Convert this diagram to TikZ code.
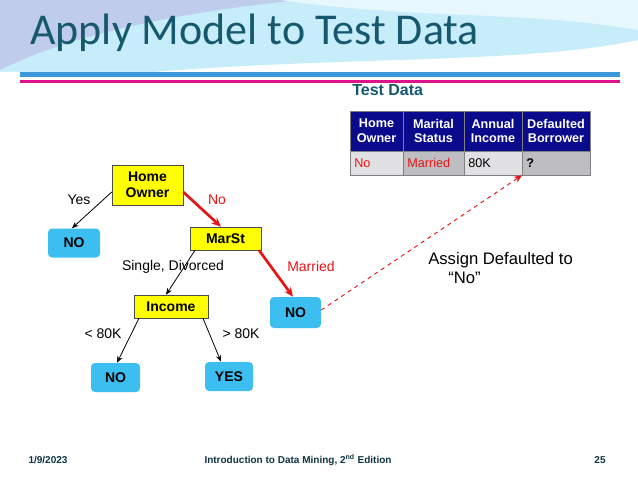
\documentclass[tikz,border=0pt]{standalone}
\usepackage{fontspec}
\setmainfont{Liberation Sans}
\newfontfamily\titlefont{Carlito}
\usetikzlibrary{arrows.meta}
\definecolor{ttl}{RGB}{22,88,110}
\definecolor{hdr}{RGB}{10,10,140}
\definecolor{lg}{RGB}{225,225,228}
\definecolor{dg}{RGB}{190,190,194}
\definecolor{leaf}{RGB}{60,190,240}
\definecolor{dec}{RGB}{255,255,0}
\definecolor{rd}{RGB}{230,20,20}
\begin{document}
\begin{tikzpicture}[x=0.75pt,y=-0.75pt,
  decbox/.style={draw=black!70,fill=dec,font=\bfseries\fontsize{10.5}{12}\selectfont,align=center,inner sep=0pt},
  leafbox/.style={fill=leaf,rounded corners=3pt,font=\bfseries\fontsize{10.5}{12}\selectfont,inner sep=0pt},
  lbl/.style={font=\fontsize{10.5}{12}\selectfont},
  thin arrow/.style={-{Stealth[length=5pt,width=4pt]},black,line width=0.6pt},
  red arrow/.style={-{Stealth[length=7pt,width=6pt]},rd,line width=2pt},
  cell/.style={draw=black!50,minimum height=24*0.75pt,anchor=west,font=\fontsize{9.5}{10}\selectfont,inner xsep=3pt,inner ysep=0pt,align=left,text depth=0pt},
  hcell/.style={draw=black!50,fill=hdr,text=white,minimum height=40*0.75pt,font=\bfseries\fontsize{9.5}{11}\selectfont,align=center,inner sep=0pt}]
\useasboundingbox (0,0) rectangle (638,478);
\fill[white] (0,0) rectangle (638,478);
% background swoosh
\fill[cyan!22!white] (0,0) -- (638,0) -- (638,40) .. controls (500,70) and (250,50) .. (0,90) -- cycle;
\fill[cyan!45!blue!25!white] (0,0) -- (300,0) .. controls (200,10) and (80,30) .. (0,70) -- cycle;
\fill[white!90!cyan] (280,0) .. controls (420,20) and (520,10) .. (638,30) -- (638,0) -- cycle;
\fill[white] (0,92) .. controls (250,55) and (450,75) .. (638,45) -- (638,72) -- (0,72) -- cycle;
\node[anchor=base west,text=ttl,font=\titlefont\fontsize{33}{35}\selectfont,inner sep=0pt] (title) at (30,45) {Apply Model to Test Data};
\fill[cyan!70!blue!80!white] (20,72.5) rectangle (620,76.5);
\fill[magenta!85!violet] (20,80) rectangle (620,82.5);
% tree
\node[decbox,minimum width=71*0.75pt,minimum height=40*0.75pt] (ho) at (147.5,185) {Home\\Owner};
\node[leafbox,minimum width=52*0.75pt,minimum height=29*0.75pt] (n1) at (74,243) {NO};
\node[decbox,minimum width=71*0.75pt,minimum height=23*0.75pt] (ms) at (225.5,238.5) {MarSt};
\node[decbox,minimum width=74*0.75pt,minimum height=23*0.75pt] (inc) at (171,306.5) {Income};
\node[leafbox,minimum width=51*0.75pt,minimum height=31*0.75pt] (n2) at (295.5,312.5) {NO};
\node[leafbox,minimum width=49*0.75pt,minimum height=29*0.75pt] (n3) at (115.5,377.5) {NO};
\node[leafbox,minimum width=48*0.75pt,minimum height=29*0.75pt] (yes) at (229,376.5) {YES};
\draw[thin arrow] (ho.west |- 0,192) -- (n1.north -| 72,0);
\draw[red arrow] (ho.east |- 0,192) -- (ms.north -| 221,0);
\draw[thin arrow] (ms.south -| 195,0) -- (inc.north -| 166,0);
\draw[red arrow] (ms.south -| 259,0) -- (n2.north -| 293,0);
\draw[thin arrow] (inc.south -| 139,0) -- (n3.north -| 117,0);
\draw[thin arrow] (inc.south -| 203,0) -- (yes.north -| 221,0);
\node[lbl] (l1) at (79,200) {Yes};
\node[lbl,text=rd] (l2) at (217,200) {No};
\node[lbl] (l3) at (173,267) {Single, Divorced};
\node[lbl,text=rd] (l4) at (311,266) {Married};
\node[lbl] (l5) at (103,334) {< 80K};
\node[lbl] (l6) at (241,334) {> 80K};
% table
\node[anchor=west,text=ttl,font=\bfseries\fontsize{12}{14}\selectfont,inner sep=0pt] (td) at (352,90) {Test Data};
\node[hcell,minimum width=53*0.75pt] (h1) at (376.5,131) {Home\\Owner};
\node[hcell,minimum width=61*0.75pt] (h2) at (433.5,131) {Marital\\Status};
\node[hcell,minimum width=58*0.75pt] (h3) at (493,131) {Annual\\Income};
\node[hcell,minimum width=68*0.75pt] (h4) at (556,131) {Defaulted\\Borrower};
\node[cell,fill=lg,text=rd,text width=45*0.75pt] (c1) at (350,163) {No};
\node[cell,fill=dg,text=rd,text width=53*0.75pt] (c2) at (403,163) {Married};
\node[cell,fill=lg,text width=50*0.75pt] (c3) at (464,163) {80K};
\node[cell,fill=dg,text width=60*0.75pt,font=\bfseries\fontsize{9.5}{10}\selectfont] (c4) at (522,163) {?};
\draw[rd,dashed,line width=0.7pt,-{Stealth[length=6pt,width=5pt]}] (n2.east |- 0,310) -- (c4.south west);
\node[anchor=north west,align=left,font=\fontsize{12.5}{14}\selectfont,inner sep=0pt] (asg) at (428,252) {Assign Defaulted to\\\hspace*{1.2em}“No”};
% footer
\node[font=\bfseries\fontsize{7.5}{9}\selectfont,text=ttl!60!black] (f1) at (48,460) {1/9/2023};
\node[font=\bfseries\fontsize{7.5}{9}\selectfont,text=ttl!60!black] (f2) at (298,460) {Introduction to Data Mining, 2\textsuperscript{nd} Edition};
\node[font=\bfseries\fontsize{7.5}{9}\selectfont,text=ttl!60!black] (f3) at (600,460) {25};
\end{tikzpicture}
\end{document}
